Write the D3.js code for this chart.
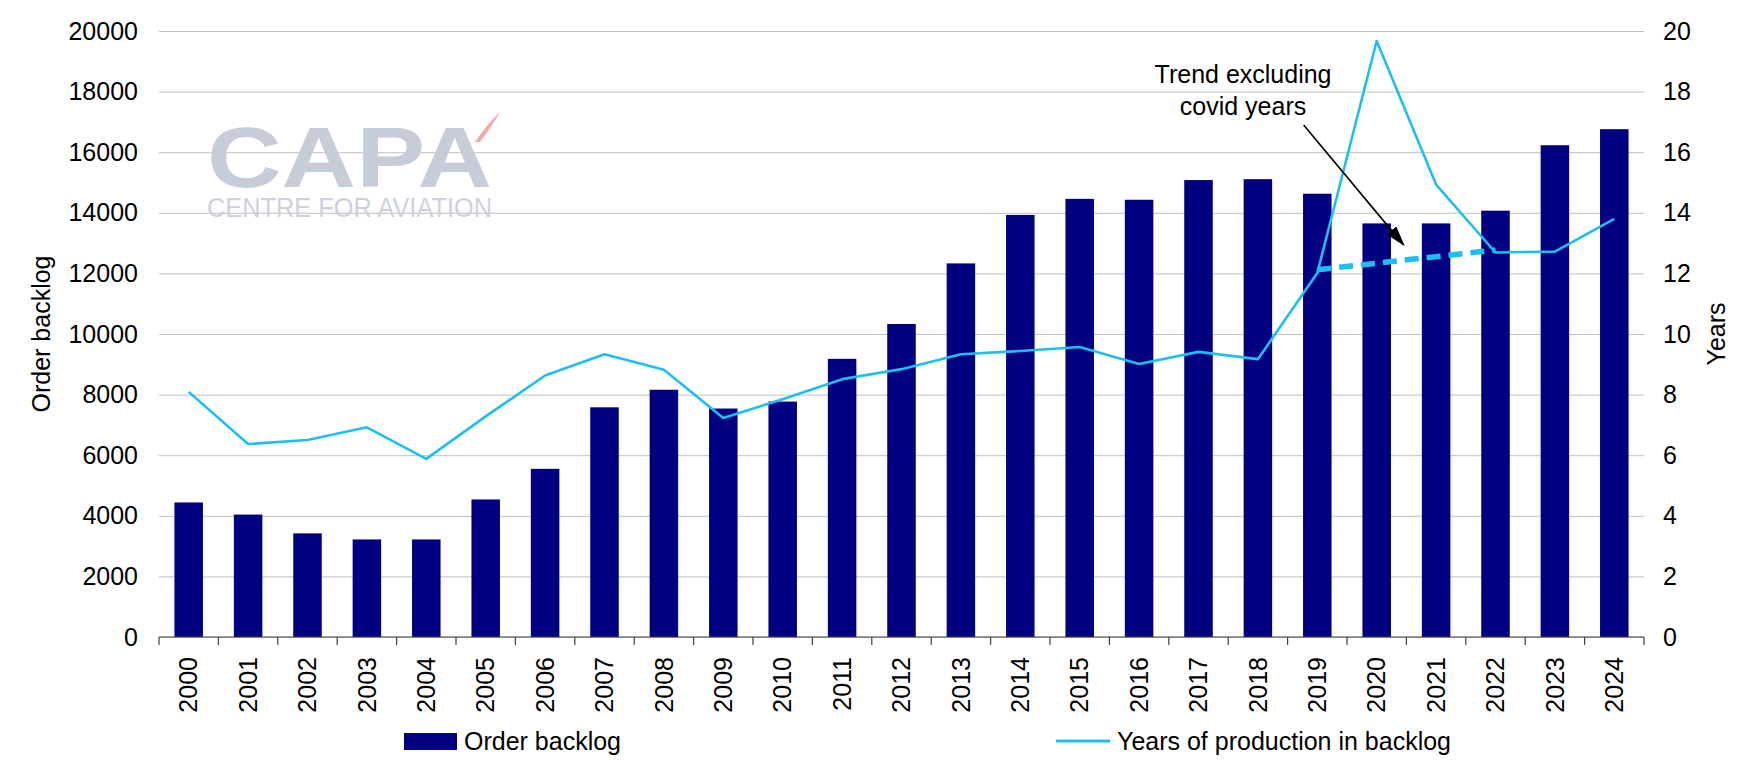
<!DOCTYPE html>
<html>
<head>
<meta charset="utf-8">
<script src="https://cdn.jsdelivr.net/npm/d3@7"></script>
<style>
  html, body { margin: 0; padding: 0; background: #fff; }
  svg { display: block; font-family: 'Liberation Sans', Arial, sans-serif; }
</style>
</head>
<body>
<svg id="chart" width="1744" height="760"></svg>
<script>
'use strict';

/* ── data ────────────────────────────────── */
const years = d3.range(2000, 2025);
const backlog = [4440, 4040, 3420, 3220, 3220, 4540, 5550, 7580, 8160, 7540, 7770, 9180, 10330,
                 12330, 13930, 14460, 14430, 15080, 15110, 14630, 13650, 13650, 14070, 16230, 16760];
const prodYears = [8.09, 6.37, 6.50, 6.92, 5.88, 7.28, 8.63, 9.33, 8.82, 7.23, 7.85, 8.51, 8.84,
                   9.33, 9.44, 9.57, 9.01, 9.41, 9.17, 12.01, 19.67, 14.93, 12.69, 12.72, 13.80];
const trendYears = [2019, 2022];
const trendValues = [12.12, 12.77];
const leftTicks = d3.range(0, 20001, 2000);
const rightTicks = d3.range(0, 21, 2);
const seriesNames = ['Order backlog', 'Years of production in backlog'];
const annotationLines = ['Trend excluding', 'covid years'];

/* ── palette ─────────────────────────────── */
const NAVY = '#000080';
const CYAN = '#1fbef0';
const GRID = '#c0c0c0';

/* ── layout ──────────────────────────────── */
const W = 1744, H = 760;
const M = { top: 31, right: 100, bottom: 123, left: 159 };
const iw = W - M.left - M.right;
const ih = H - M.top - M.bottom;

const svg = d3.select('#chart');
const g = svg.append('g').attr('transform', `translate(${M.left},${M.top})`);

const x = d3.scaleBand().domain(years).range([0, iw]).padding(0);
const yL = d3.scaleLinear().domain([0, 20000]).range([ih, 0]);
const yR = d3.scaleLinear().domain([0, 20]).range([ih, 0]);
const cx = d => x(d) + x.bandwidth() / 2;
const barW = x.bandwidth() * 0.48;

/* ── watermark ───────────────────────────── */
const wm = svg.append('g').attr('opacity', 0.95);
wm.append('text')
  .attr('x', 207).attr('y', 187)
  .attr('textLength', 285).attr('lengthAdjust', 'spacingAndGlyphs')
  .attr('font-size', 85).attr('font-weight', 'bold')
  .attr('fill', '#c4cbd7')
  .text('CAPA');
wm.append('text')
  .attr('x', 207).attr('y', 217)
  .attr('textLength', 285).attr('lengthAdjust', 'spacingAndGlyphs')
  .attr('font-size', 28)
  .attr('fill', '#cbd0d9')
  .text('CENTRE FOR AVIATION');
wm.append('path')
  .attr('d', 'M475,142 Q487,124 500,112 Q492,126 480,142 Z')
  .attr('fill', '#f3a3a3');

/* ── gridlines + left axis ───────────────── */
const axL = g.append('g')
  .call(d3.axisLeft(yL).tickValues(leftTicks).tickSize(-iw).tickPadding(21).tickFormat(d3.format('d')));
axL.select('.domain').remove();
axL.selectAll('.tick line').attr('stroke', GRID).attr('stroke-width', 1);
axL.selectAll('.tick text').attr('font-size', 25).attr('fill', '#000').attr('font-family', 'Liberation Sans, Arial, sans-serif');

/* ── right axis ──────────────────────────── */
const axR = g.append('g').attr('transform', `translate(${iw},0)`)
  .call(d3.axisRight(yR).tickValues(rightTicks).tickSize(0).tickPadding(19));
axR.select('.domain').remove();
axR.selectAll('.tick text').attr('font-size', 25).attr('fill', '#000').attr('font-family', 'Liberation Sans, Arial, sans-serif');

/* ── bars ────────────────────────────────── */
g.append('g').selectAll('rect').data(years).join('rect')
  .attr('x', d => cx(d) - barW / 2)
  .attr('width', barW)
  .attr('y', (d, i) => yL(backlog[i]))
  .attr('height', (d, i) => ih - yL(backlog[i]))
  .attr('fill', NAVY);

/* ── x axis ──────────────────────────────── */
const axB = g.append('g').attr('transform', `translate(0,${ih})`);
axB.append('line').attr('x1', 0).attr('x2', iw).attr('stroke', '#404040').attr('stroke-width', 1.2);
axB.selectAll('line.tk').data(years.concat([null])).join('line')
  .attr('class', 'tk')
  .attr('x1', d => d === null ? iw : x(d)).attr('x2', d => d === null ? iw : x(d))
  .attr('y1', 0).attr('y2', 8)
  .attr('stroke', '#404040').attr('stroke-width', 1.2);
axB.selectAll('text').data(years).join('text')
  .attr('transform', d => `translate(${cx(d)},20) rotate(-90)`)
  .attr('text-anchor', 'end')
  .attr('dy', '0.35em')
  .attr('font-size', 25)
  .text(d => d);

/* ── years line ──────────────────────────── */
const line = d3.line().x(d => cx(d[0])).y(d => yR(d[1]));
g.append('path')
  .datum(years.map((d, i) => [d, prodYears[i]]))
  .attr('d', line)
  .attr('fill', 'none')
  .attr('stroke', CYAN)
  .attr('stroke-width', 2.6)
  .attr('stroke-linejoin', 'round');

/* ── trend (dashed) ──────────────────────── */
g.append('path')
  .datum(trendYears.map((d, i) => [d, trendValues[i]]))
  .attr('d', line)
  .attr('fill', 'none')
  .attr('stroke', CYAN)
  .attr('stroke-width', 5.5)
  .attr('stroke-dasharray', '14,8');

/* ── annotation ──────────────────────────── */
const defs = svg.append('defs');
defs.append('marker').attr('id', 'arr')
  .attr('viewBox', '0 0 10 6').attr('refX', 9).attr('refY', 3)
  .attr('markerWidth', 13).attr('markerHeight', 7.8).attr('orient', 'auto')
  .append('path').attr('d', 'M0,0 L10,3 L0,6 Z').attr('fill', '#000');

const annX = cx(2020) - x.bandwidth() * 2.25;
annotationLines.forEach((t, i) => {
  g.append('text')
    .attr('x', annX).attr('y', yR(18.3) + i * 32)
    .attr('text-anchor', 'middle')
    .attr('font-size', 25)
    .text(t);
});
g.append('line')
  .attr('x1', cx(2020) - x.bandwidth() * 1.23).attr('y1', yR(16.9))
  .attr('x2', cx(2020) + x.bandwidth() * 0.45).attr('y2', yR(12.95))
  .attr('stroke', '#000').attr('stroke-width', 1.6)
  .attr('marker-end', 'url(#arr)');

/* ── axis titles ─────────────────────────── */
svg.append('text')
  .attr('transform', `translate(41,${M.top + ih / 2}) rotate(-90)`)
  .attr('text-anchor', 'middle').attr('dy', '0.35em')
  .attr('font-size', 25)
  .text('Order backlog');
svg.append('text')
  .attr('transform', `translate(1716,${M.top + ih / 2}) rotate(-90)`)
  .attr('text-anchor', 'middle').attr('dy', '0.35em')
  .attr('font-size', 25)
  .text('Years');

/* ── legend ──────────────────────────────── */
const lg = svg.append('g');
lg.append('rect').attr('x', 404).attr('y', 733).attr('width', 53).attr('height', 17).attr('fill', NAVY);
lg.append('text').attr('x', 464).attr('y', 741).attr('dy', '0.35em').attr('font-size', 25).text(seriesNames[0]);
lg.append('line').attr('x1', 1056).attr('x2', 1110).attr('y1', 741).attr('y2', 741)
  .attr('stroke', CYAN).attr('stroke-width', 3);
lg.append('text').attr('x', 1117).attr('y', 741).attr('dy', '0.35em').attr('font-size', 25).text(seriesNames[1]);
</script>
</body>
</html>
